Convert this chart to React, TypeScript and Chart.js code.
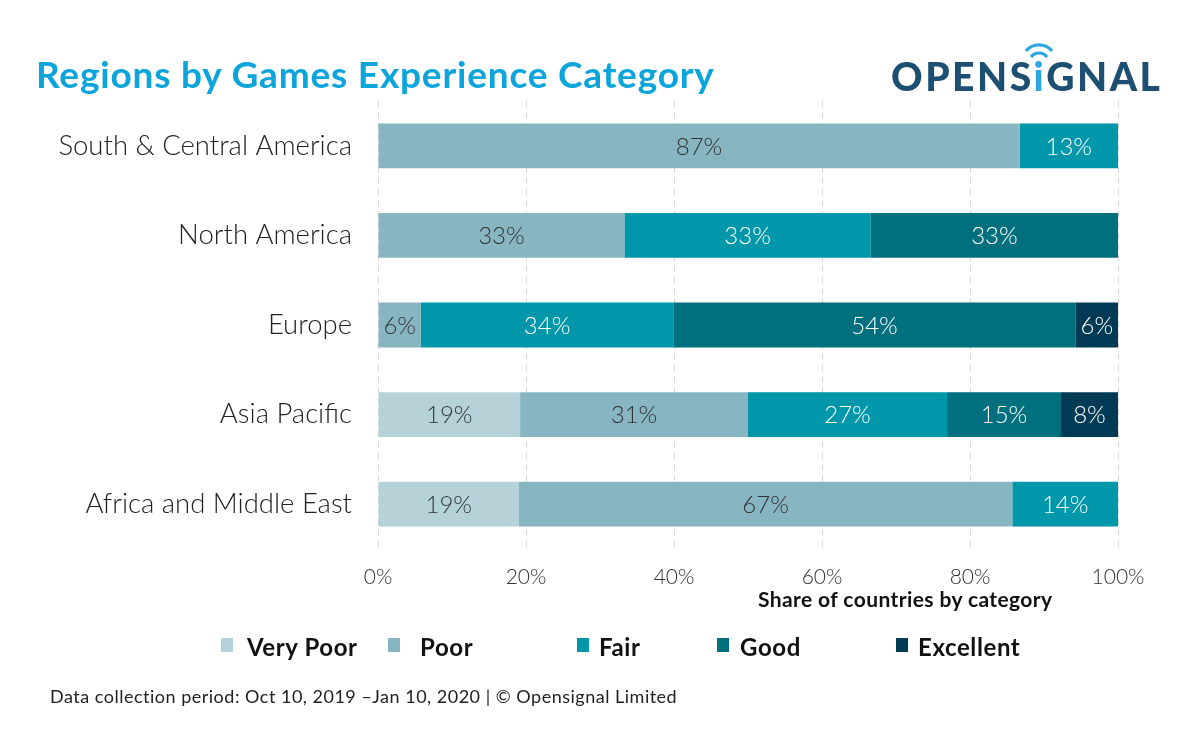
import React, { useEffect, useRef } from "react";
import { Chart, registerables } from "chart.js";

Chart.register(...registerables);

const regions = [
  "South & Central America",
  "North America",
  "Europe",
  "Asia Pacific",
  "Africa and Middle East",
];
const veryPoor = [0, 0, 0, 19.2, 19.05];
const poor = [86.7, 33.3, 5.8, 30.8, 66.67];
const fair = [13.3, 33.3, 34.1, 26.9, 14.28];
const good = [0, 33.4, 54.4, 15.4, 0];
const excellent = [0, 0, 5.7, 7.7, 0];
const xTicks = [0, 20, 40, 60, 80, 100];

const seriesNames = ["Very Poor", "Poor", "Fair", "Good", "Excellent"];
const seriesColors = ["#b6d2d9", "#87b6c2", "#0097aa", "#006f7e", "#003a55"];
const labelColors = ["#333333", "#333333", "#ffffff", "#ffffff", "#ffffff"];
const seriesData = [veryPoor, poor, fair, good, excellent];

const FONT = "Lato, 'Noto Sans', sans-serif";

const barLabels = {
  id: "barLabels",
  afterDatasetsDraw(chart: any) {
    const ctx = chart.ctx;
    ctx.save();
    ctx.font = `300 24px ${FONT}`;
    ctx.textAlign = "center";
    ctx.textBaseline = "middle";
    chart.data.datasets.forEach((ds: any, di: number) => {
      const meta = chart.getDatasetMeta(di);
      meta.data.forEach((bar: any, i: number) => {
        const v = ds.data[i];
        if (!v) return;
        const x = (bar.x + bar.base) / 2;
        ctx.fillStyle = labelColors[di];
        ctx.fillText(`${Math.round(v)}%`, x, bar.y + 1);
      });
    });
    ctx.restore();
  },
};

export default function App() {
  const ref = useRef<HTMLCanvasElement>(null);
  useEffect(() => {
    if (!ref.current) return;
    const chart = new Chart(ref.current, {
      type: "bar",
      data: {
        labels: regions,
        datasets: seriesData.map((d, i) => ({
          label: seriesNames[i],
          data: d,
          backgroundColor: seriesColors[i],
          borderWidth: 0,
          barPercentage: 1,
          categoryPercentage: 0.5,
        })),
      },
      options: {
        indexAxis: "y",
        animation: false,
        responsive: false,
        maintainAspectRatio: false,
        layout: { padding: { top: 101, right: 85, left: 0, bottom: 0 } },
        plugins: {
          legend: { display: false },
          title: { display: false },
          tooltip: { enabled: false },
        },
        scales: {
          x: {
            stacked: true,
            min: 0,
            max: 100,
            afterFit: (s: any) => {
              s.height = 186;
            },
            afterBuildTicks: (s: any) => {
              s.ticks = xTicks.map((v) => ({ value: v }));
            },
            ticks: {
              padding: 16,
              color: "#333333",
              font: { family: FONT, size: 21, weight: 300 as any },
              callback: (v: any) => `${v}%`,
            },
            grid: {
              drawTicks: false,
              color: "#d6d6d6",
              lineWidth: 1,
            },
            border: { display: false, dash: [6, 5] },
          },
          y: {
            stacked: true,
            afterFit: (s: any) => {
              s.width = 378;
            },
            ticks: {
              padding: 26,
              color: "#222222",
              font: { family: FONT, size: 27.5, weight: 300 as any },
            },
            grid: { display: false, drawTicks: false },
            border: { display: false },
          },
        },
      },
      plugins: [barLabels],
    });
    return () => chart.destroy();
  }, []);

  const legendPos = [
    { box: 221, text: 247 },
    { box: 388, text: 420 },
    { box: 577, text: 599 },
    { box: 717, text: 740 },
    { box: 896, text: 918 },
  ];

  return (
    <div
      style={{
        position: "fixed",
        left: 0,
        top: 0,
        width: 1203,
        height: 735,
        background: "#ffffff",
        fontFamily: FONT,
        overflow: "hidden",
      }}
    >
      <canvas
        ref={ref}
        width={1203}
        height={735}
        style={{ position: "absolute", left: 0, top: 0, width: 1203, height: 735 }}
      />
      <div
        style={{
          position: "absolute",
          left: 36,
          top: 52,
          fontSize: 37,
          fontWeight: 700,
          color: "#0ba5dc",
          whiteSpace: "nowrap",
          lineHeight: "44px",
          letterSpacing: 0.8,
        }}
      >
        Regions by Games Experience Category
      </div>
      <div
        style={{
          position: "absolute",
          left: 891,
          top: 52,
          fontSize: 39,
          fontWeight: 900,
          color: "#1d4f73",
          whiteSpace: "nowrap",
          lineHeight: "48px",
          letterSpacing: 2.5,
        }}
      >
        OPENS
        <span style={{ position: "relative", color: "#2ba6e0", fontWeight: 900 }}>
          i
          <svg
            width="34"
            height="22"
            viewBox="0 0 34 22"
            style={{ position: "absolute", left: -12, top: -12 }}
          >
            <path d="M9 16 A10 10 0 0 1 25 16" stroke="#2ba6e0" strokeWidth="3.2" fill="none" />
            <path d="M4 10 A17 17 0 0 1 30 10" stroke="#2ba6e0" strokeWidth="3.2" fill="none" />
          </svg>
        </span>
        GNAL
      </div>
      <div
        style={{
          position: "absolute",
          left: 758,
          top: 586,
          fontSize: 21,
          fontWeight: 700,
          color: "#111111",
          whiteSpace: "nowrap",
          lineHeight: "26px",
          letterSpacing: 0.4,
        }}
      >
        Share of countries by category
      </div>
      {seriesNames.map((n, i) => (
        <React.Fragment key={n}>
          <div
            style={{
              position: "absolute",
              left: legendPos[i].box,
              top: 638,
              width: 12,
              height: 14,
              background: seriesColors[i],
            }}
          />
          <div
            style={{
              position: "absolute",
              left: legendPos[i].text,
              top: 632,
              fontSize: 24,
              fontWeight: 700,
              color: "#111111",
              whiteSpace: "nowrap",
              lineHeight: "30px",
              letterSpacing: 0.6,
            }}
          >
            {n}
          </div>
        </React.Fragment>
      ))}
      <div
        style={{
          position: "absolute",
          left: 50,
          top: 685,
          fontSize: 18,
          fontWeight: 400,
          color: "#222222",
          whiteSpace: "nowrap",
          lineHeight: "22px",
          letterSpacing: 0.5,
        }}
      >
        Data collection period: Oct 10, 2019 –Jan 10, 2020 | © Opensignal Limited
      </div>
    </div>
  );
}
